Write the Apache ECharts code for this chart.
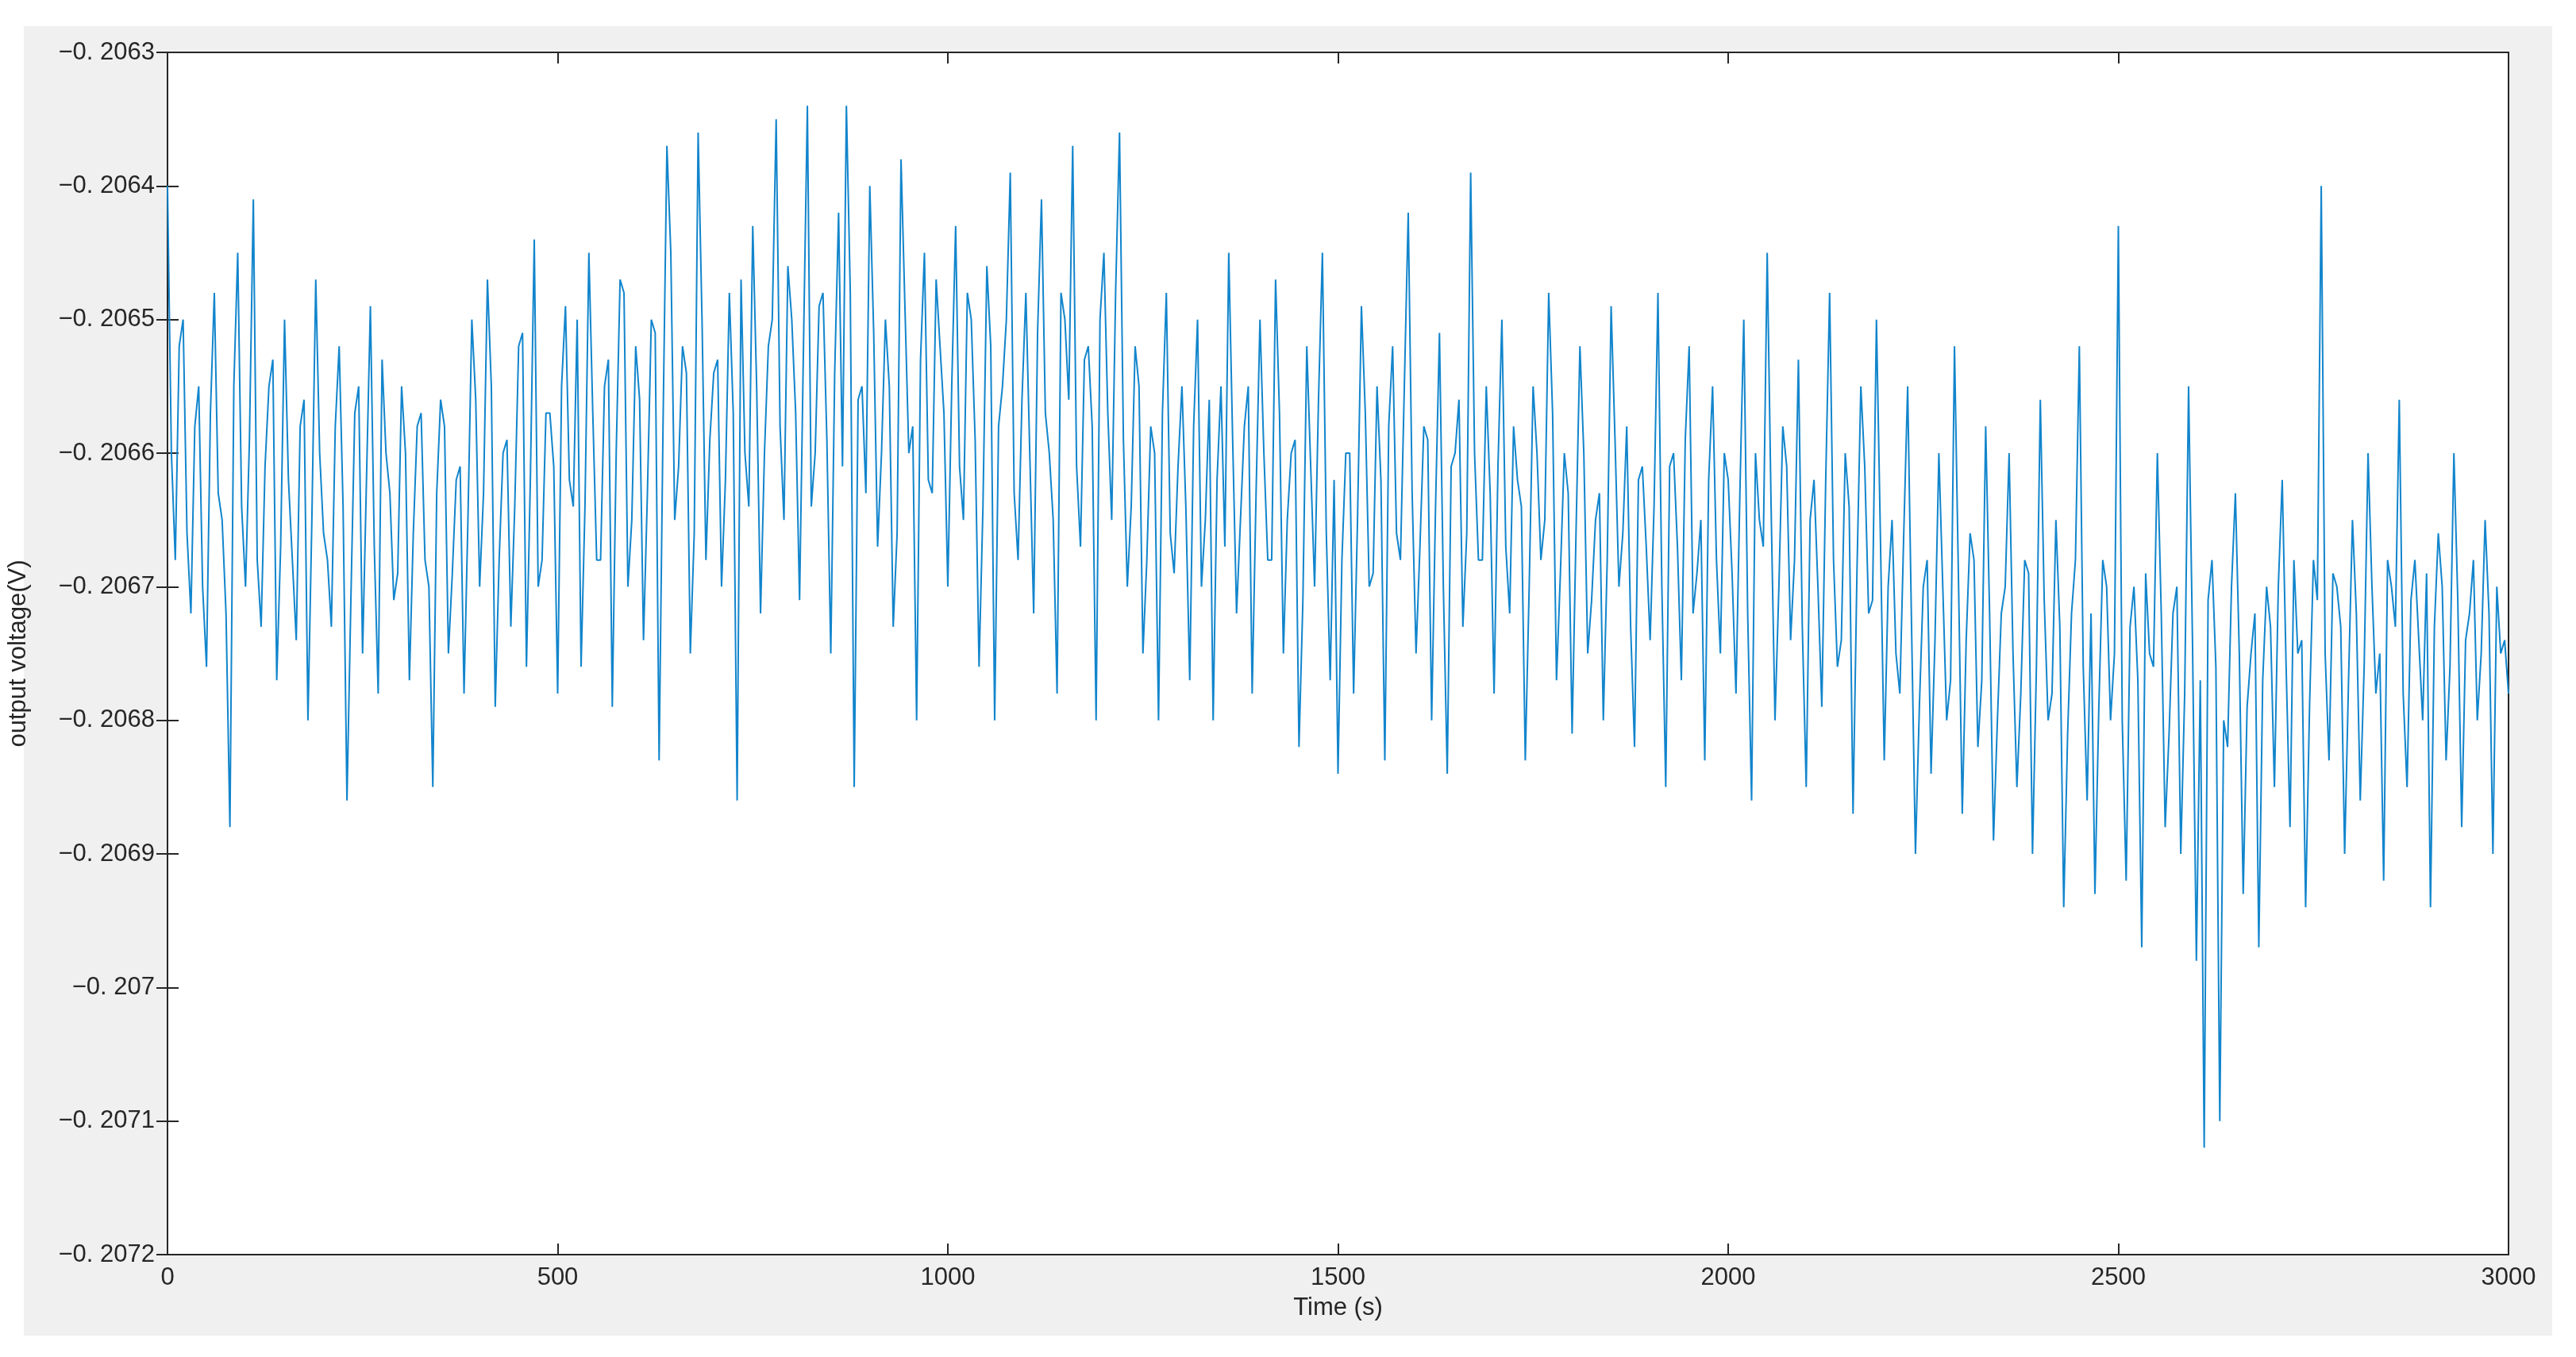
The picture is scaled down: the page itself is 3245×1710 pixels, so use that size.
<!DOCTYPE html>
<html><head><meta charset="utf-8">
<script src="https://cdn.jsdelivr.net/npm/echarts@6/dist/echarts.min.js"></script>
<style>html,body{margin:0;padding:0;background:#fff}#c{width:3245px;height:1710px}</style>
</head><body><div id="c"></div>
<script>
const timeStep = 10;
const voltage = [
-0.20640,-0.20668,-0.20650,-0.20672,-0.20655,-0.20676,-0.20648,-0.20665,-0.20688,-0.20645,-0.20670,
-0.20641,-0.20673,-0.20655,-0.20677,-0.20650,-0.20668,-0.20658,-0.20680,-0.20647,-0.20666,
-0.20673,-0.20652,-0.20686,-0.20657,-0.20675,-0.20649,-0.20678,-0.20660,-0.20671,-0.20655,
-0.20677,-0.20658,-0.20668,-0.20685,-0.20656,-0.20675,-0.20662,-0.20678,-0.20650,-0.20670,
-0.20647,-0.20679,-0.20660,-0.20673,-0.20652,-0.20676,-0.20644,-0.20668,-0.20657,-0.20678,
-0.20649,-0.20664,-0.20676,-0.20645,-0.20668,-0.20655,-0.20679,-0.20647,-0.20670,-0.20652,
-0.20674,-0.20650,-0.20683,-0.20637,-0.20665,-0.20652,-0.20675,-0.20636,-0.20668,-0.20654,
-0.20670,-0.20648,-0.20686,-0.20660,-0.20643,-0.20672,-0.20652,-0.20635,-0.20665,-0.20650,
-0.20671,-0.20634,-0.20660,-0.20648,-0.20675,-0.20642,-0.20634,-0.20685,-0.20655,-0.20640,
-0.20667,-0.20650,-0.20673,-0.20638,-0.20660,-0.20680,-0.20645,-0.20663,-0.20652,-0.20670,
-0.20643,-0.20665,-0.20650,-0.20676,-0.20646,-0.20680,-0.20655,-0.20639,-0.20668,-0.20648,
-0.20672,-0.20641,-0.20660,-0.20678,-0.20650,-0.20637,-0.20667,-0.20652,-0.20680,-0.20645,
-0.20665,-0.20636,-0.20670,-0.20652,-0.20675,-0.20658,-0.20680,-0.20648,-0.20669,-0.20655,
-0.20677,-0.20650,-0.20665,-0.20680,-0.20655,-0.20645,-0.20672,-0.20658,-0.20678,-0.20650,
-0.20668,-0.20647,-0.20675,-0.20660,-0.20682,-0.20652,-0.20670,-0.20645,-0.20677,-0.20684,
-0.20660,-0.20678,-0.20649,-0.20670,-0.20655,-0.20683,-0.20652,-0.20668,-0.20642,-0.20675,
-0.20658,-0.20680,-0.20651,-0.20684,-0.20660,-0.20673,-0.20639,-0.20668,-0.20655,-0.20678,
-0.20650,-0.20672,-0.20662,-0.20683,-0.20655,-0.20668,-0.20648,-0.20677,-0.20660,-0.20681,
-0.20652,-0.20675,-0.20665,-0.20680,-0.20649,-0.20670,-0.20658,-0.20682,-0.20661,-0.20674,
-0.20648,-0.20685,-0.20660,-0.20677,-0.20652,-0.20669,-0.20683,-0.20655,-0.20675,-0.20662,
-0.20678,-0.20650,-0.20686,-0.20665,-0.20645,-0.20680,-0.20658,-0.20674,-0.20653,-0.20685,
-0.20662,-0.20679,-0.20648,-0.20676,-0.20660,-0.20687,-0.20655,-0.20672,-0.20650,-0.20683,
-0.20665,-0.20678,-0.20655,-0.20690,-0.20670,-0.20684,-0.20660,-0.20680,-0.20652,-0.20687,
-0.20666,-0.20682,-0.20658,-0.20689,-0.20672,-0.20660,-0.20685,-0.20668,-0.20690,-0.20656,
-0.20680,-0.20665,-0.20694,-0.20672,-0.20652,-0.20686,-0.20693,-0.20668,-0.20680,-0.20643,
-0.20692,-0.20670,-0.20697,-0.20675,-0.20660,-0.20688,-0.20672,-0.20690,-0.20655,-0.20698,
-0.20712,-0.20668,-0.20710,-0.20682,-0.20663,-0.20693,-0.20675,-0.20697,-0.20670,-0.20685,
-0.20662,-0.20688,-0.20675,-0.20694,-0.20668,-0.20640,-0.20683,-0.20670,-0.20690,-0.20665,
-0.20686,-0.20660,-0.20678,-0.20692,-0.20670,-0.20656,-0.20685,-0.20668,-0.20680,-0.20694,
-0.20666,-0.20683,-0.20660,-0.20688,-0.20672,-0.20680,-0.20665,-0.20690,-0.20675,-0.20678
];
// samples in between (t = 5, 15, ..., 2995)
const voltageMid = [
-0.20660,-0.20652,-0.20666,-0.20658,-0.20670,-0.20657,-0.20663,-0.20672,-0.20655,-0.20664,
-0.20659,-0.20668,-0.20661,-0.20653,-0.20667,-0.20662,-0.20674,-0.20656,-0.20665,-0.20660,
-0.20668,-0.20658,-0.20664,-0.20671,-0.20655,-0.20662,-0.20667,-0.20653,-0.20663,-0.20669,
-0.20660,-0.20666,-0.20657,-0.20670,-0.20663,-0.20658,-0.20669,-0.20661,-0.20665,-0.20656,
-0.20663,-0.20655,-0.20668,-0.20659,-0.20664,-0.20651,-0.20662,-0.20670,-0.20657,-0.20661,
-0.20655,-0.20662,-0.20650,-0.20664,-0.20657,-0.20668,-0.20653,-0.20660,-0.20648,-0.20665,
-0.20656,-0.20663,-0.20651,-0.20658,-0.20645,-0.20661,-0.20654,-0.20666,-0.20650,-0.20659,
-0.20653,-0.20662,-0.20657,-0.20647,-0.20664,-0.20655,-0.20660,-0.20650,-0.20658,-0.20646,
-0.20657,-0.20652,-0.20664,-0.20649,-0.20659,-0.20654,-0.20661,-0.20648,-0.20656,-0.20663,
-0.20651,-0.20660,-0.20655,-0.20666,-0.20649,-0.20658,-0.20653,-0.20662,-0.20647,-0.20657,
-0.20655,-0.20661,-0.20648,-0.20659,-0.20664,-0.20652,-0.20658,-0.20650,-0.20663,-0.20656,
-0.20660,-0.20651,-0.20657,-0.20665,-0.20648,-0.20656,-0.20661,-0.20653,-0.20658,-0.20650,
-0.20657,-0.20648,-0.20659,-0.20664,-0.20655,-0.20668,-0.20660,-0.20657,-0.20666,-0.20661,
-0.20664,-0.20658,-0.20670,-0.20656,-0.20662,-0.20667,-0.20659,-0.20665,-0.20655,-0.20663,
-0.20660,-0.20668,-0.20657,-0.20665,-0.20659,-0.20671,-0.20661,-0.20656,-0.20666,-0.20662,
-0.20668,-0.20660,-0.20665,-0.20657,-0.20669,-0.20662,-0.20658,-0.20666,-0.20655,-0.20663,
-0.20667,-0.20659,-0.20664,-0.20670,-0.20661,-0.20656,-0.20666,-0.20660,-0.20668,-0.20663,
-0.20661,-0.20667,-0.20658,-0.20664,-0.20670,-0.20660,-0.20665,-0.20657,-0.20669,-0.20663,
-0.20666,-0.20660,-0.20671,-0.20663,-0.20668,-0.20659,-0.20666,-0.20673,-0.20662,-0.20667,
-0.20664,-0.20670,-0.20661,-0.20667,-0.20659,-0.20672,-0.20665,-0.20662,-0.20668,-0.20660,
-0.20669,-0.20663,-0.20672,-0.20660,-0.20667,-0.20664,-0.20670,-0.20661,-0.20668,-0.20673,
-0.20665,-0.20670,-0.20662,-0.20668,-0.20674,-0.20664,-0.20669,-0.20661,-0.20671,-0.20666,
-0.20670,-0.20675,-0.20666,-0.20673,-0.20679,-0.20668,-0.20674,-0.20670,-0.20677,-0.20669,
-0.20674,-0.20668,-0.20677,-0.20672,-0.20680,-0.20670,-0.20675,-0.20678,-0.20669,-0.20676,
-0.20671,-0.20678,-0.20673,-0.20681,-0.20668,-0.20676,-0.20672,-0.20679,-0.20670,-0.20675,
-0.20680,-0.20673,-0.20677,-0.20669,-0.20676,-0.20672,-0.20681,-0.20670,-0.20678,-0.20674,
-0.20677,-0.20671,-0.20676,-0.20680,-0.20670,-0.20675,-0.20679,-0.20672,-0.20677,-0.20673,
-0.20670,-0.20676,-0.20668,-0.20674,-0.20679,-0.20671,-0.20675,-0.20669,-0.20673,-0.20677,
-0.20672,-0.20676,-0.20670,-0.20675,-0.20668,-0.20673,-0.20678,-0.20671,-0.20674,-0.20669,
-0.20673,-0.20670,-0.20676,-0.20671,-0.20674,-0.20668,-0.20675,-0.20672,-0.20670,-0.20674
];
const data = [];
voltage.forEach((v,i)=>{
  data.push([i*timeStep, v]);
  if (i < voltageMid.length) data.push([i*timeStep + timeStep/2, voltageMid[i]]);
});
const fmtY = v => {
  const s = Math.abs(v).toFixed(4).replace(/0+$/,'').replace(/\.$/,'');
  return '\u22120. ' + s.split('.')[1];
};
const chart = echarts.init(document.getElementById('c'));
const lab = {fontFamily:'Liberation Sans, Arial', fontSize:31, color:'#262626'};
const tick = {show:true, inside:true, length:14, lineStyle:{color:'#262626', width:2}};
chart.setOption({
  animation:false,
  backgroundColor:'#fff',
  graphic:[{type:'rect', shape:{x:30,y:33,width:3185,height:1650}, style:{fill:'#f0f0f0'}, z:-10}],
  grid:{left:209, right:85, top:66, bottom:129, show:true, backgroundColor:'#fff', borderColor:'#262626', borderWidth:2},
  xAxis:[{type:'value', min:0, max:3000, interval:500, position:'bottom',
    name:'Time (s)', nameLocation:'middle', nameGap:52, nameTextStyle:{...lab},
    axisLine:{lineStyle:{color:'#262626', width:2}}, axisTick:tick, splitLine:{show:false},
    axisLabel:{...lab, margin:14, formatter:v=>String(v)}},
   {type:'value', min:0, max:3000, interval:500, position:'top', axisLine:{show:false}, axisTick:tick, axisLabel:{show:false}, splitLine:{show:false}}],
  yAxis:[{type:'value', min:-0.2072, max:-0.2063, interval:0.0001,
    name:'output voltage(V)', nameLocation:'middle', nameGap:172, nameRotate:90, nameTextStyle:{...lab},
    axisLine:{lineStyle:{color:'#262626', width:2}}, axisTick:tick, splitLine:{show:false},
    axisLabel:{...lab, margin:16, formatter:fmtY}},
   {type:'value', min:-0.2072, max:-0.2063, interval:0.0001, position:'right', axisLine:{show:false}, axisTick:tick, axisLabel:{show:false}, splitLine:{show:false}}],
  series:[{type:'line', data:data, showSymbol:false, lineStyle:{color:'#1285CC', width:2}}]
});
</script></body></html>
